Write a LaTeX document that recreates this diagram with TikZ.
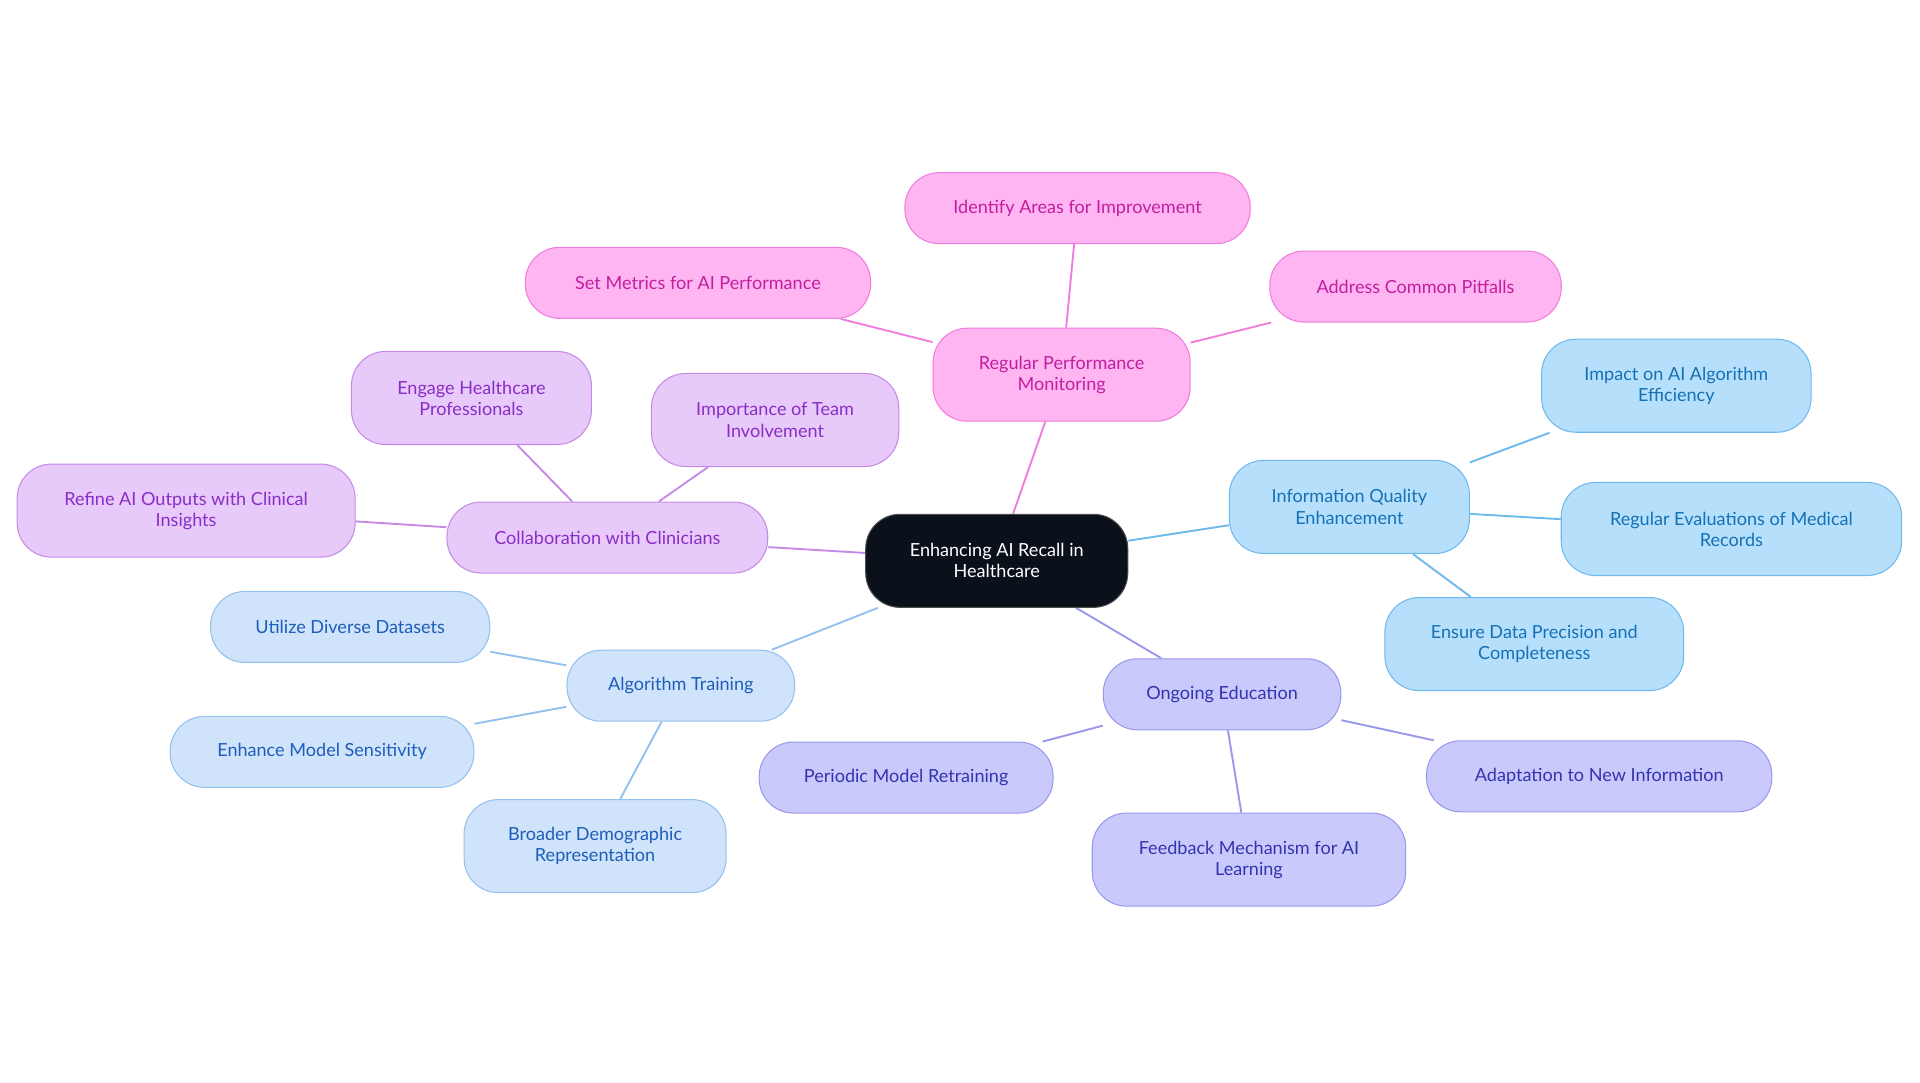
\documentclass[tikz,border=0pt]{standalone}
\usepackage{fontspec}
\setmainfont{Lato}
\usetikzlibrary{backgrounds}
\definecolor{pkF}{HTML}{FFB5F1}\definecolor{pkD}{HTML}{F07CDD}\definecolor{pkT}{HTML}{C11FA0}
\definecolor{puF}{HTML}{E8CAFA}\definecolor{puD}{HTML}{C68AE6}\definecolor{puT}{HTML}{8A2DC6}
\definecolor{lbF}{HTML}{CFE3FA}\definecolor{lbD}{HTML}{94C0EE}\definecolor{lbT}{HTML}{1F5DBB}
\definecolor{cyF}{HTML}{B6DFFB}\definecolor{cyD}{HTML}{6DB8EC}\definecolor{cyT}{HTML}{1571B5}
\definecolor{inF}{HTML}{C9C9FB}\definecolor{inD}{HTML}{9898EA}\definecolor{inT}{HTML}{3434B0}
\definecolor{ctr}{HTML}{0B111B}
\tikzset{
 box/.style={rounded corners=1.4cm, line width=1.2pt, align=center, inner sep=0pt,
   font=\fontsize{21}{24.5}\selectfont},
 pkbox/.style={box, fill=pkF, draw=pkD, text=pkT},
 pubox/.style={box, fill=puF, draw=puD, text=puT},
 lbbox/.style={box, fill=lbF, draw=lbD, text=lbT},
 cybox/.style={box, fill=cyF, draw=cyD, text=cyT},
 inbox/.style={box, fill=inF, draw=inD, text=inT},
 edge/.style={line width=2.2pt},
}
\newcommand{\bx}[6]{\node[#1, minimum width=#4*0.05cm, minimum height=#5*0.05cm] (#2) at (#3) {#6};}
\begin{document}
\begin{tikzpicture}[x=0.05cm,y=-0.05cm]
\useasboundingbox (0,0) rectangle (1568,884);
\bx{box,fill=ctr,draw=gray!60!black,text=white}{c}{814,458}{214}{76}{Enhancing AI Recall in\\Healthcare}
\bx{pkbox}{p}{867,306}{210}{76}{Regular Performance\\Monitoring}
\bx{pkbox}{p1}{880,170}{282}{58}{Identify Areas for Improvement}
\bx{pkbox}{p2}{570,231}{282}{58}{Set Metrics for AI Performance}
\bx{pkbox}{p3}{1156,234}{238}{58}{Address Common Pitfalls}
\bx{pubox}{u}{496,439}{262}{58}{Collaboration with Clinicians}
\bx{pubox}{u1}{385,325}{196}{76}{Engage Healthcare\\Professionals}
\bx{pubox}{u2}{633,343}{202}{76}{Importance of Team\\Involvement}
\bx{pubox}{u3}{152,417}{276}{76}{Refine AI Outputs with Clinical\\Insights}
\bx{lbbox}{a}{556,560}{186}{58}{Algorithm Training}
\bx{lbbox}{a1}{286,512}{228}{58}{Utilize Diverse Datasets}
\bx{lbbox}{a2}{263,614}{248}{58}{Enhance Model Sensitivity}
\bx{lbbox}{a3}{486,691}{214}{76}{Broader Demographic\\Representation}
\bx{cybox}{q}{1102,414}{196}{76}{Information Quality\\Enhancement}
\bx{cybox}{q1}{1369,315}{220}{76}{Impact on AI Algorithm\\Efficiency}
\bx{cybox}{q2}{1414,432}{278}{76}{Regular Evaluations of Medical\\Records}
\bx{cybox}{q3}{1253,526}{244}{76}{Ensure Data Precision and\\Completeness}
\bx{inbox}{o}{998,567}{194}{58}{Ongoing Education}
\bx{inbox}{o1}{740,635}{240}{58}{Periodic Model Retraining}
\bx{inbox}{o2}{1020,702}{256}{76}{Feedback Mechanism for AI\\Learning}
\bx{inbox}{o3}{1306,634}{282}{58}{Adaptation to New Information}
\begin{scope}[on background layer]
\draw[edge,pkD] (c)--(p) (p)--(p1) (p)--(p2) (p)--(p3);
\draw[edge,puD] (c)--(u) (u)--(u1) (u)--(u2) (u)--(u3);
\draw[edge,lbD] (c)--(a) (a)--(a1) (a)--(a2) (a)--(a3);
\draw[edge,cyD] (c)--(q) (q)--(q1) (q)--(q2) (q)--(q3);
\draw[edge,inD] (c)--(o) (o)--(o1) (o)--(o2) (o)--(o3);
\end{scope}
\end{tikzpicture}
\end{document}
